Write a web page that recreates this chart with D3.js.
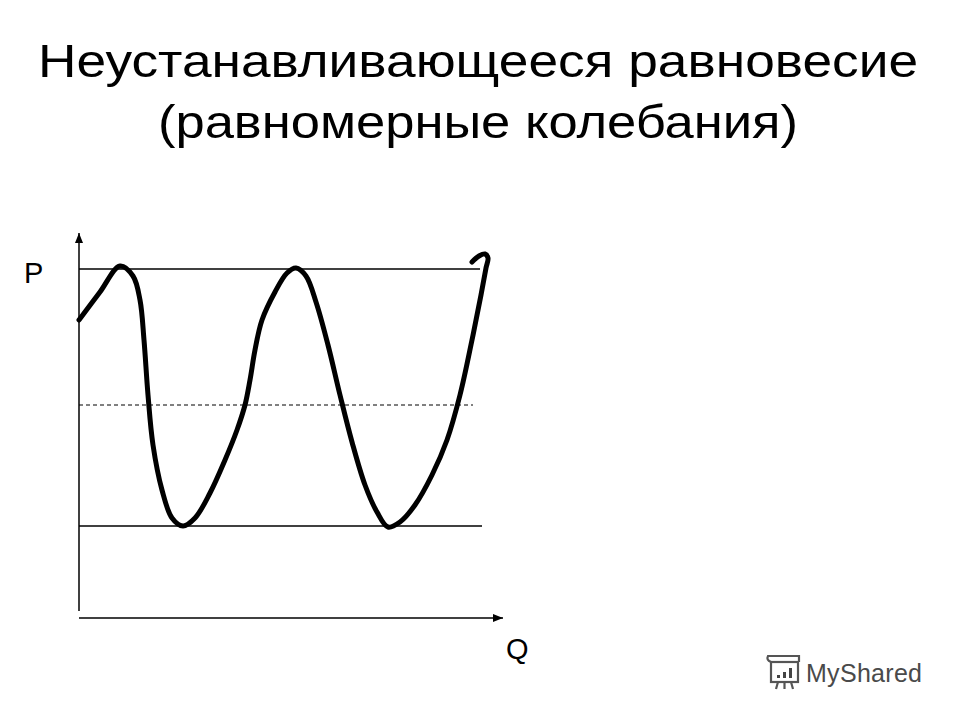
<!DOCTYPE html>
<html>
<head>
<meta charset="utf-8">
<script src="https://cdn.jsdelivr.net/npm/d3@7"></script>
<style>
  html, body { margin: 0; padding: 0; background: #fff; }
  svg { display: block; }
  text { font-family: "Liberation Sans", Arial, sans-serif; }
</style>
</head>
<body>
<svg id="chart" width="960" height="720"></svg>
<script>
// ---- data (scale units: Q horizontal, P vertical) ----
const titleLines = ["Неустанавливающееся равновесие", "(равномерные колебания)"];
const axisLabels = { p: "P", q: "Q" };
const curveQ = [0, 21, 41, 54, 61, 65, 69, 74, 83, 93, 104, 116, 131, 146, 158, 166, 171, 176, 183, 196, 208, 217, 227, 237, 249, 261, 273, 286, 298, 309, 321, 336, 353, 368, 381, 393, 402, 407, 409, 406, 400, 393];
const curveP = [298, 326, 352, 342, 318, 278, 223, 173, 128, 100, 92, 100, 125, 158, 188, 213, 238, 268, 298, 326, 345, 350, 342, 316, 273, 223, 176, 133, 106, 91, 96, 113, 143, 178, 223, 278, 323, 350, 360, 364, 362, 356];
const levelNames = ["upper", "equilibrium", "lower"];
const levelP = [349, 213, 92];
const levelEnd = [401, 394, 403];
const levelDashed = [false, true, false];
const qMax = 424, pMax = 385;

const svg = d3.select("#chart");
const x = d3.scaleLinear().domain([0, qMax]).range([79, 503]);
const y = d3.scaleLinear().domain([0, pMax]).range([618, 233]);

// title (the reference is horizontally stretched)
const titleWidths = [880, 640];
svg.selectAll("text.title").data(titleLines).join("text")
  .attr("class", "title")
  .attr("x", (d, i) => 478 - titleWidths[i] / 2)
  .attr("y", (d, i) => 77 + i * 61)
  .attr("font-size", 47)
  .attr("textLength", (d, i) => titleWidths[i])
  .attr("lengthAdjust", "spacingAndGlyphs")
  .attr("fill", "#000")
  .text(d => d);

// arrow marker
const defs = svg.append("defs");
defs.append("marker")
  .attr("id", "arrow")
  .attr("viewBox", "0 0 10 10")
  .attr("refX", 10).attr("refY", 5)
  .attr("markerWidth", 10).attr("markerHeight", 10)
  .attr("markerUnits", "userSpaceOnUse")
  .attr("orient", "auto")
  .append("path").attr("d", "M0,1 L10,5 L0,9 Z").attr("fill", "#000");

// axes
svg.append("line")
  .attr("x1", x(0)).attr("y1", y(7))
  .attr("x2", x(0)).attr("y2", y(pMax))
  .attr("stroke", "#000").attr("stroke-width", 1.5)
  .attr("marker-end", "url(#arrow)");
svg.append("line")
  .attr("x1", x(0)).attr("y1", y(0))
  .attr("x2", x(qMax)).attr("y2", y(0))
  .attr("stroke", "#000").attr("stroke-width", 1.5)
  .attr("marker-end", "url(#arrow)");

// level lines
svg.selectAll("line.level").data(levelP).join("line")
  .attr("class", "level")
  .attr("x1", x(0)).attr("x2", (d, i) => x(levelEnd[i]))
  .attr("y1", d => y(d)).attr("y2", d => y(d))
  .attr("stroke", "#000")
  .attr("stroke-width", (d, i) => levelDashed[i] ? 1 : 1.3)
  .attr("stroke-dasharray", (d, i) => levelDashed[i] ? "4,3" : null);

// oscillation curve
const pts = curveQ.map((q, i) => [q, curveP[i]]);
const line = d3.line().x(d => x(d[0])).y(d => y(d[1])).curve(d3.curveCatmullRom.alpha(0.5));
svg.append("path")
  .attr("d", line(pts))
  .attr("fill", "none")
  .attr("stroke", "#000")
  .attr("stroke-width", 5)
  .attr("stroke-linejoin", "round")
  .attr("stroke-linecap", "round");

// axis labels
svg.append("text").attr("x", 24).attr("y", 283).attr("font-size", 29).text(axisLabels.p);
svg.append("text").attr("x", 506).attr("y", 659).attr("font-size", 29).text(axisLabels.q);

// watermark
const wm = svg.append("g").attr("fill", "none").attr("stroke", "#555").attr("stroke-width", 2.2);
wm.append("rect").attr("x", 771).attr("y", 662).attr("width", 27).attr("height", 20);
wm.append("path").attr("d", "M771,662 q-5,-2 -3,-6 l31,0 l0,6");
wm.append("path").attr("d", "M778,682 l-2,7 M784.5,682 l0,7 M791,682 l2,7");
const bars = [3, 6, 10];
wm.selectAll("rect.bar").data(bars).join("rect").attr("class", "bar")
  .attr("x", (d, i) => 777 + i * 6).attr("y", d => 678 - d).attr("width", 3).attr("height", d => d)
  .attr("fill", "#444").attr("stroke", "none");
svg.append("text").attr("x", 806).attr("y", 682).attr("font-family", "'Open Sans', sans-serif")
  .attr("font-size", 25).attr("fill", "#4a4a4a").attr("textLength", 116).text("MyShared");
</script>
</body>
</html>
